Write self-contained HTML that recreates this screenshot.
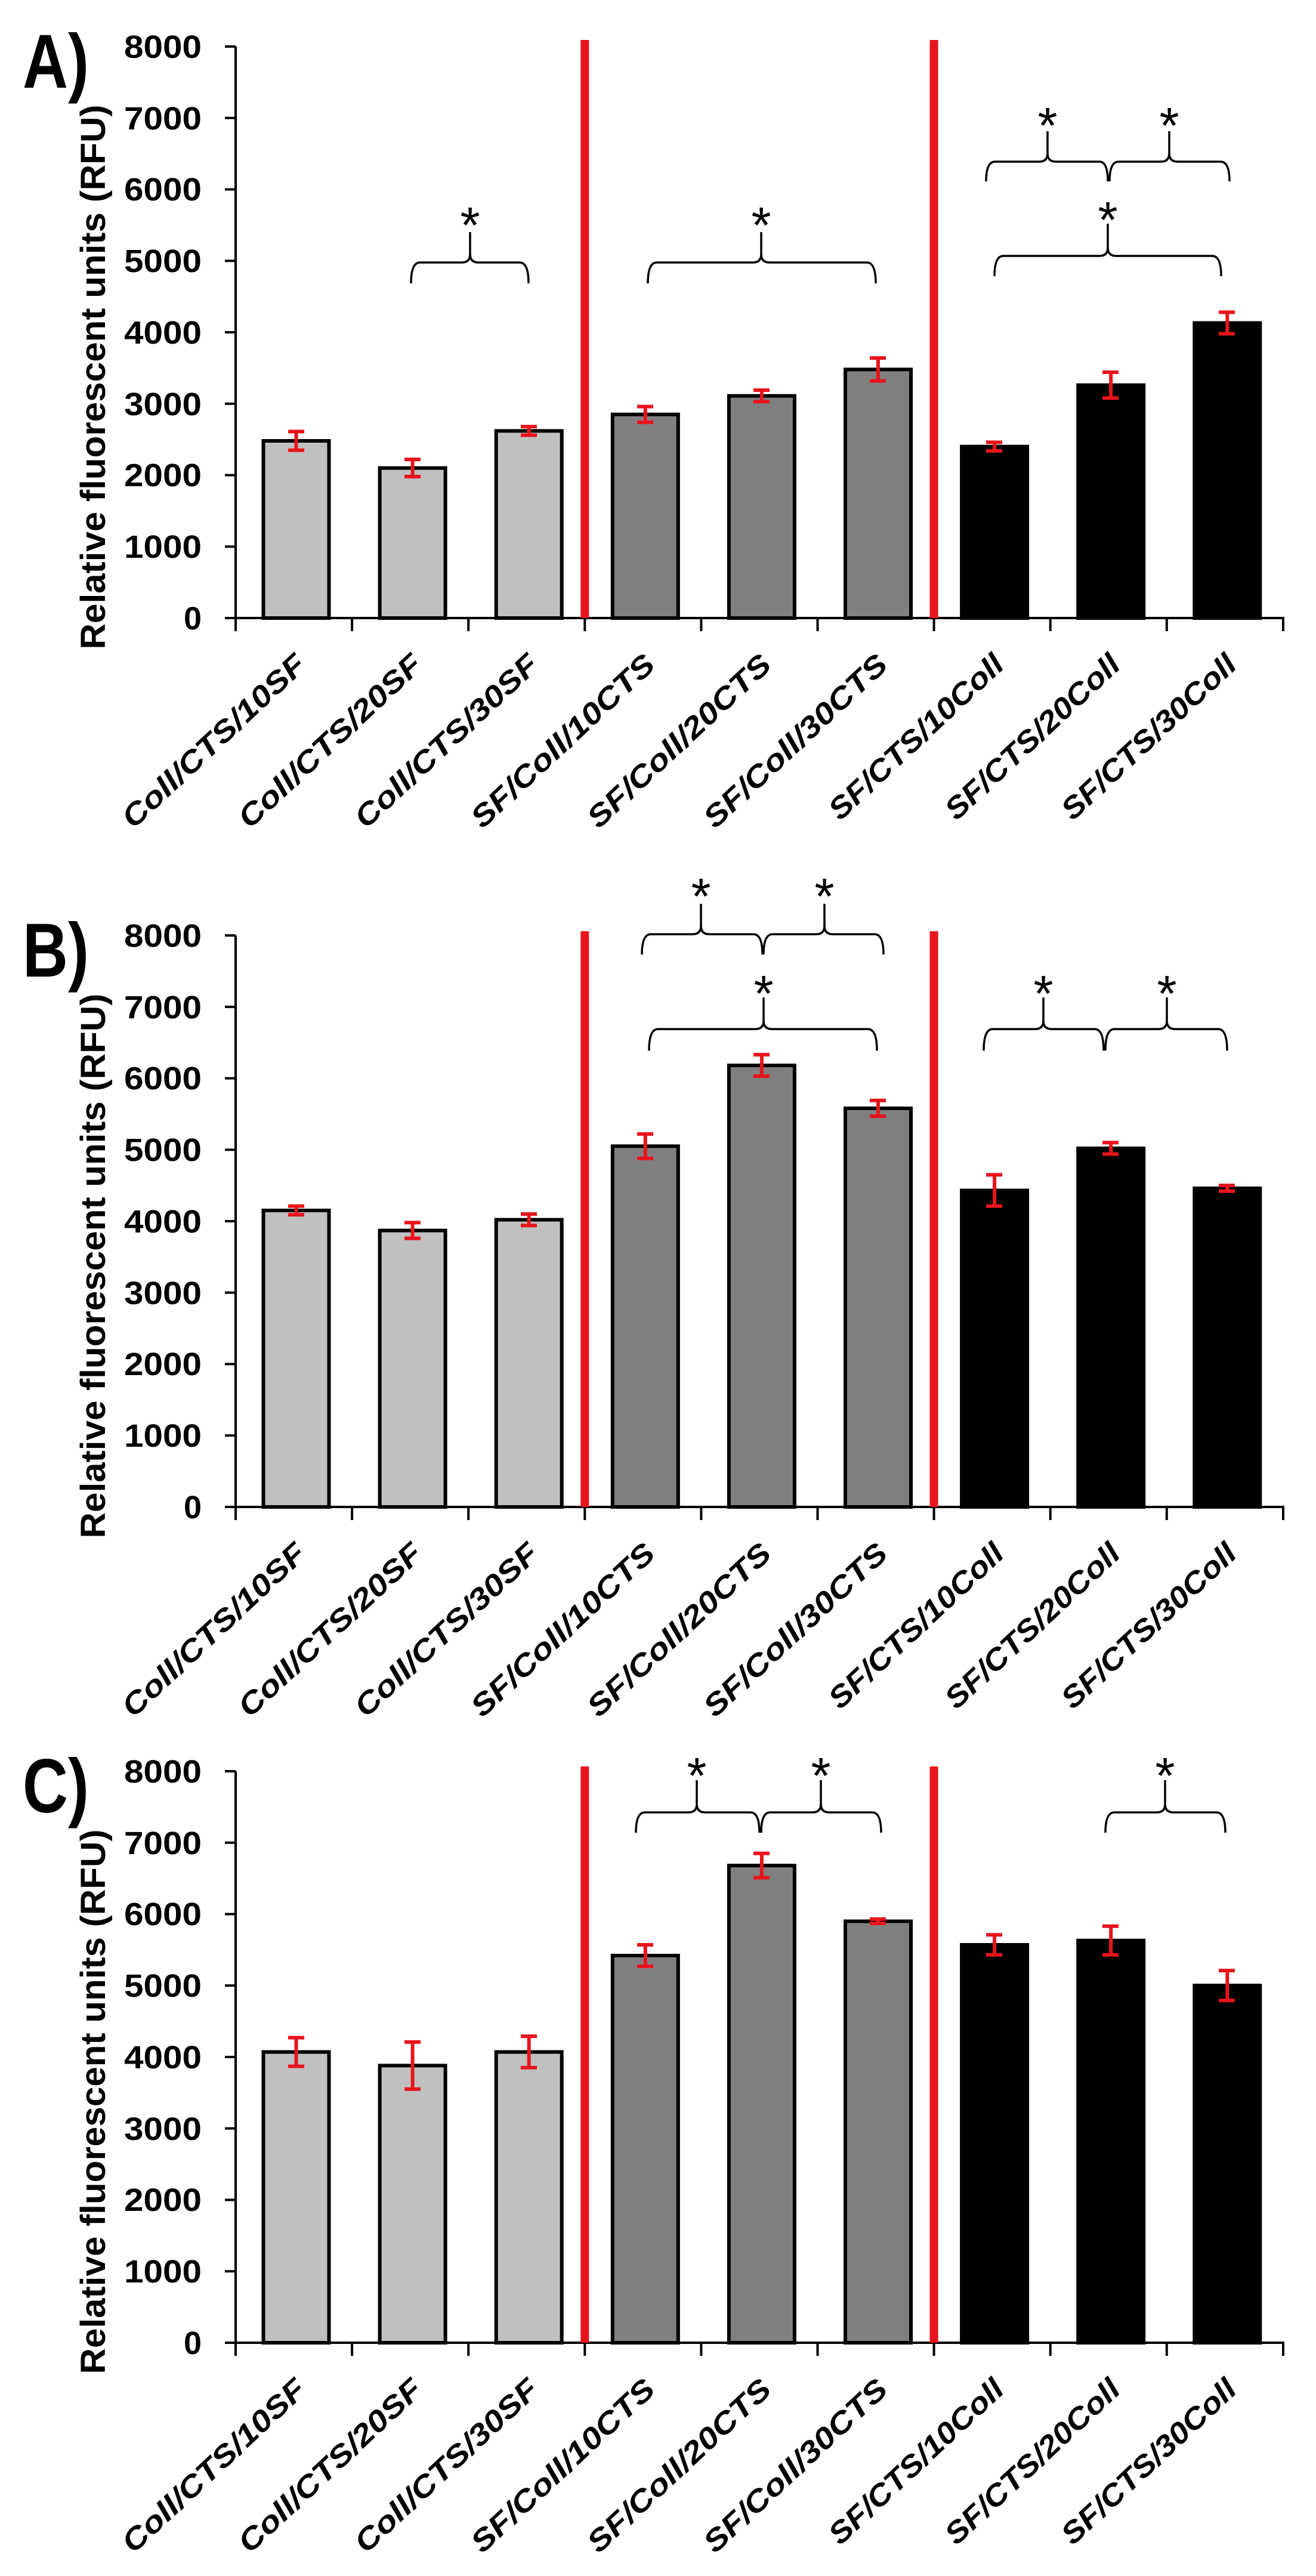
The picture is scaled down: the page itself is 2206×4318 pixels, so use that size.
<!DOCTYPE html>
<html><head><meta charset="utf-8"><style>
html,body{margin:0;padding:0;background:#fff;}
svg{display:block;}
text{font-family:"Liberation Sans",sans-serif;font-weight:bold;fill:#000;}
.t{font-size:54px;text-anchor:end;}
.xl{font-size:50px;font-style:italic;text-anchor:end;}
.st{font-size:85px;font-weight:normal;text-anchor:middle;}
.br{fill:none;stroke:#000;stroke-width:3.5;}
.eb{stroke:#e8141c;stroke-width:6;fill:none;}
.bar{stroke:#000;stroke-width:6;}
</style></head><body>
<svg width="2206" height="4318" viewBox="0 0 2206 4318" xmlns="http://www.w3.org/2000/svg">
<defs>
<g id="axes">
  <line x1="395" y1="78" x2="395" y2="1036" stroke="#000" stroke-width="4"/>
  <line x1="377" y1="1036" x2="2153" y2="1036" stroke="#000" stroke-width="4"/>
  <g stroke="#000" stroke-width="4">
    <line x1="377" y1="78" x2="395" y2="78"/><line x1="377" y1="197.75" x2="395" y2="197.75"/>
    <line x1="377" y1="317.5" x2="395" y2="317.5"/><line x1="377" y1="437.25" x2="395" y2="437.25"/>
    <line x1="377" y1="557" x2="395" y2="557"/><line x1="377" y1="676.75" x2="395" y2="676.75"/>
    <line x1="377" y1="796.5" x2="395" y2="796.5"/><line x1="377" y1="916.25" x2="395" y2="916.25"/>
    <line x1="395" y1="1036" x2="395" y2="1058"/><line x1="590.1" y1="1036" x2="590.1" y2="1058"/>
    <line x1="785.2" y1="1036" x2="785.2" y2="1058"/><line x1="980.3" y1="1036" x2="980.3" y2="1058"/>
    <line x1="1175.4" y1="1036" x2="1175.4" y2="1058"/><line x1="1370.5" y1="1036" x2="1370.5" y2="1058"/>
    <line x1="1565.6" y1="1036" x2="1565.6" y2="1058"/><line x1="1760.7" y1="1036" x2="1760.7" y2="1058"/>
    <line x1="1955.8" y1="1036" x2="1955.8" y2="1058"/><line x1="2151" y1="1036" x2="2151" y2="1058"/>
  </g>
  <text class="t" x="338" y="97" textLength="130" lengthAdjust="spacingAndGlyphs">8000</text>
  <text class="t" x="338" y="217" textLength="130" lengthAdjust="spacingAndGlyphs">7000</text>
  <text class="t" x="338" y="336" textLength="130" lengthAdjust="spacingAndGlyphs">6000</text>
  <text class="t" x="338" y="456" textLength="130" lengthAdjust="spacingAndGlyphs">5000</text>
  <text class="t" x="338" y="576" textLength="130" lengthAdjust="spacingAndGlyphs">4000</text>
  <text class="t" x="338" y="696" textLength="130" lengthAdjust="spacingAndGlyphs">3000</text>
  <text class="t" x="338" y="815" textLength="130" lengthAdjust="spacingAndGlyphs">2000</text>
  <text class="t" x="338" y="935" textLength="130" lengthAdjust="spacingAndGlyphs">1000</text>
  <text class="t" x="338" y="1055">0</text>
  <text x="0" y="0" transform="translate(176,632) rotate(-90)" font-size="58" text-anchor="middle" textLength="913" lengthAdjust="spacingAndGlyphs">Relative fluorescent units (RFU)</text>
  <g class="xl">
    <text transform="translate(516,1118) rotate(-43)" textLength="400" lengthAdjust="spacingAndGlyphs">Coll/CTS/10SF</text>
    <text transform="translate(711,1118) rotate(-43)" textLength="400" lengthAdjust="spacingAndGlyphs">Coll/CTS/20SF</text>
    <text transform="translate(906,1118) rotate(-43)" textLength="400" lengthAdjust="spacingAndGlyphs">Coll/CTS/30SF</text>
    <text transform="translate(1101,1118) rotate(-43)" textLength="400" lengthAdjust="spacingAndGlyphs">SF/Coll/10CTS</text>
    <text transform="translate(1296,1118) rotate(-43)" textLength="400" lengthAdjust="spacingAndGlyphs">SF/Coll/20CTS</text>
    <text transform="translate(1491,1118) rotate(-43)" textLength="400" lengthAdjust="spacingAndGlyphs">SF/Coll/30CTS</text>
    <text transform="translate(1686,1118) rotate(-43)" textLength="380" lengthAdjust="spacingAndGlyphs">SF/CTS/10Coll</text>
    <text transform="translate(1881,1118) rotate(-43)" textLength="380" lengthAdjust="spacingAndGlyphs">SF/CTS/20Coll</text>
    <text transform="translate(2076,1118) rotate(-43)" textLength="380" lengthAdjust="spacingAndGlyphs">SF/CTS/30Coll</text>
  </g>
</g>
</defs>

<!-- Panel A -->
<g>
  <text x="38" y="147" font-size="128" textLength="111" lengthAdjust="spacingAndGlyphs">A)</text>
  <use href="#axes"/>
  <rect x="973.3" y="67" width="14" height="969" fill="#e8141c"/>
  <rect x="1558.6" y="67" width="14" height="969" fill="#e8141c"/>
  <rect class="bar" x="441.5" y="739" width="110" height="297" fill="#c0c0c0"/>
  <rect class="bar" x="636.6" y="784.5" width="110" height="251.5" fill="#c0c0c0"/>
  <rect class="bar" x="831.7" y="722.3" width="110" height="313.7" fill="#c0c0c0"/>
  <rect class="bar" x="1026.8" y="694.7" width="110" height="341.3" fill="#808080"/>
  <rect class="bar" x="1221.9" y="663.6" width="110" height="372.4" fill="#808080"/>
  <rect class="bar" x="1417" y="619.3" width="110" height="416.7" fill="#808080"/>
  <rect class="bar" x="1612.1" y="748.6" width="110" height="287.4" fill="#000"/>
  <rect class="bar" x="1807.2" y="645.6" width="110" height="390.4" fill="#000"/>
  <rect class="bar" x="2002.3" y="541.4" width="110" height="494.6" fill="#000"/>
  <path class="eb" d="M496.5 723.4V754.6M483 723.4H510M483 754.6H510
  M691.6 770.1V798.9M678 770.1H705M678 798.9H705
  M886.7 715.1V729.5M873 715.1H900M873 729.5H900
  M1081.8 681.5V707.9M1068 681.5H1095M1068 707.9H1095
  M1276.9 654V673.2M1263 654H1290M1263 673.2H1290
  M1472 600.1V638.5M1458 600.1H1485M1458 638.5H1485
  M1667.1 741.4V755.8M1653 741.4H1680M1653 755.8H1680
  M1862.2 624V667.2M1848 624H1875M1848 667.2H1875
  M2057.3 523.4V559.4M2043 523.4H2070M2043 559.4H2070"/>
  <path class="br" d="M689 475Q689 440 704 440H774Q788 440 788 426V389M788 426Q788 440 802 440H871Q886 440 886 475"/>
  <text class="st" x="788" y="407">*</text>
  <path class="br" d="M1086 475Q1086 440 1101 440H1262Q1276 440 1276 426V389M1276 426Q1276 440 1290 440H1453Q1468 440 1468 475"/>
  <text class="st" x="1276" y="407">*</text>
  <path class="br" d="M1653 304Q1653 271 1668 271H1742Q1756 271 1756 257V220M1756 257Q1756 271 1770 271H1843Q1857 271 1857 304"/>
  <path class="br" d="M1860 304Q1860 271 1875 271H1946Q1960 271 1960 257V220M1960 257Q1960 271 1974 271H2046Q2061 271 2061 304"/>
  <text class="st" x="1756" y="240">*</text>
  <text class="st" x="1960" y="240">*</text>
  <path class="br" d="M1667 463Q1667 429 1682 429H1843Q1857 429 1857 415V375M1857 415Q1857 429 1871 429H2032Q2047 429 2047 463"/>
  <text class="st" x="1857" y="398">*</text>
</g>

<!-- Panel B -->
<g transform="translate(0,1490)">
  <text x="38" y="147" font-size="128" textLength="111" lengthAdjust="spacingAndGlyphs">B)</text>
  <use href="#axes"/>
  <rect x="973.3" y="71" width="14" height="965" fill="#e8141c"/>
  <rect x="1558.6" y="71" width="14" height="965" fill="#e8141c"/>
  <rect class="bar" x="441.5" y="539" width="110" height="497" fill="#c0c0c0"/>
  <rect class="bar" x="636.6" y="572.6" width="110" height="463.4" fill="#c0c0c0"/>
  <rect class="bar" x="831.7" y="554.6" width="110" height="481.4" fill="#c0c0c0"/>
  <rect class="bar" x="1026.8" y="431.3" width="110" height="604.7" fill="#808080"/>
  <rect class="bar" x="1221.9" y="295.9" width="110" height="740.1" fill="#808080"/>
  <rect class="bar" x="1417" y="367.8" width="110" height="668.2" fill="#808080"/>
  <rect class="bar" x="1612.1" y="505.5" width="110" height="530.5" fill="#000"/>
  <rect class="bar" x="1807.2" y="434.9" width="110" height="601.1" fill="#000"/>
  <rect class="bar" x="2002.3" y="501.9" width="110" height="534.1" fill="#000"/>
  <path class="eb" d="M496.5 531.8V546.2M483 531.8H510M483 546.2H510
  M691.6 559.4V585.8M678 559.4H705M678 585.8H705
  M886.7 545V564.2M873 545H900M873 564.2H900
  M1081.8 410.9V451.7M1068 410.9H1095M1068 451.7H1095
  M1276.9 277.9V313.9M1263 277.9H1290M1263 313.9H1290
  M1472 354.6V381M1458 354.6H1485M1458 381H1485
  M1667.1 479.2V531.8M1653 479.2H1680M1653 531.8H1680
  M1862.2 425.3V444.5M1848 425.3H1875M1848 444.5H1875
  M2057.3 497.1V506.7M2043 497.1H2070M2043 506.7H2070"/>
  <path class="br" d="M1076 110Q1076 76 1091 76H1161Q1175 76 1175 62V25M1175 62Q1175 76 1189 76H1263Q1278 76 1278 110"/>
  <path class="br" d="M1280 110Q1280 76 1295 76H1368Q1382 76 1382 62V25M1382 62Q1382 76 1396 76H1466Q1481 76 1481 110"/>
  <text class="st" x="1175" y="42">*</text>
  <text class="st" x="1382" y="42">*</text>
  <path class="br" d="M1088 271Q1088 235 1103 235H1266Q1280 235 1280 221V182M1280 221Q1280 235 1294 235H1455Q1470 235 1470 271"/>
  <text class="st" x="1280" y="205">*</text>
  <path class="br" d="M1649 271Q1649 235 1664 235H1735Q1749 235 1749 221V182M1749 221Q1749 235 1763 235H1835Q1850 235 1850 271"/>
  <path class="br" d="M1853 271Q1853 235 1868 235H1942Q1956 235 1956 221V182M1956 221Q1956 235 1970 235H2042Q2057 235 2057 271"/>
  <text class="st" x="1749" y="205">*</text>
  <text class="st" x="1956" y="205">*</text>
</g>

<!-- Panel C -->
<g transform="translate(0,2891)">
  <text x="38" y="147" font-size="128" textLength="111" lengthAdjust="spacingAndGlyphs">C)</text>
  <use href="#axes"/>
  <rect x="973.3" y="70" width="14" height="966" fill="#e8141c"/>
  <rect x="1558.6" y="70" width="14" height="966" fill="#e8141c"/>
  <rect class="bar" x="441.5" y="548.6" width="110" height="487.4" fill="#c0c0c0"/>
  <rect class="bar" x="636.6" y="571.4" width="110" height="464.6" fill="#c0c0c0"/>
  <rect class="bar" x="831.7" y="548.6" width="110" height="487.4" fill="#c0c0c0"/>
  <rect class="bar" x="1026.8" y="387" width="110" height="649" fill="#808080"/>
  <rect class="bar" x="1221.9" y="236.1" width="110" height="799.9" fill="#808080"/>
  <rect class="bar" x="1417" y="329.5" width="110" height="706.5" fill="#808080"/>
  <rect class="bar" x="1612.1" y="369" width="110" height="667" fill="#000"/>
  <rect class="bar" x="1807.2" y="361.8" width="110" height="674.2" fill="#000"/>
  <rect class="bar" x="2002.3" y="437.2" width="110" height="598.8" fill="#000"/>
  <path class="eb" d="M496.5 524.6V572.6M483 524.6H510M483 572.6H510
  M691.6 531.9V610.9M678 531.9H705M678 610.9H705
  M886.7 522.3V574.9M873 522.3H900M873 574.9H900
  M1081.8 369V405M1068 369H1095M1068 405H1095
  M1276.9 215.7V256.5M1263 215.7H1290M1263 256.5H1290
  M1472 325.9V333.1M1458 325.9H1485M1458 333.1H1485
  M1667.1 352.2V385.8M1653 352.2H1680M1653 385.8H1680
  M1862.2 337.8V385.8M1848 337.8H1875M1848 385.8H1875
  M2057.3 412.1V462.3M2043 412.1H2070M2043 462.3H2070"/>
  <path class="br" d="M1066 181Q1066 147 1081 147H1154Q1168 147 1168 133V93M1168 133Q1168 147 1182 147H1258Q1273 147 1273 181"/>
  <path class="br" d="M1276 181Q1276 147 1291 147H1362Q1376 147 1376 133V93M1376 133Q1376 147 1390 147H1462Q1477 147 1477 181"/>
  <text class="st" x="1168" y="115">*</text>
  <text class="st" x="1376" y="115">*</text>
  <path class="br" d="M1853 181Q1853 147 1868 147H1939Q1953 147 1953 133V93M1953 133Q1953 147 1967 147H2039Q2054 147 2054 181"/>
  <text class="st" x="1953" y="115">*</text>
</g>
</svg>
</body></html>
